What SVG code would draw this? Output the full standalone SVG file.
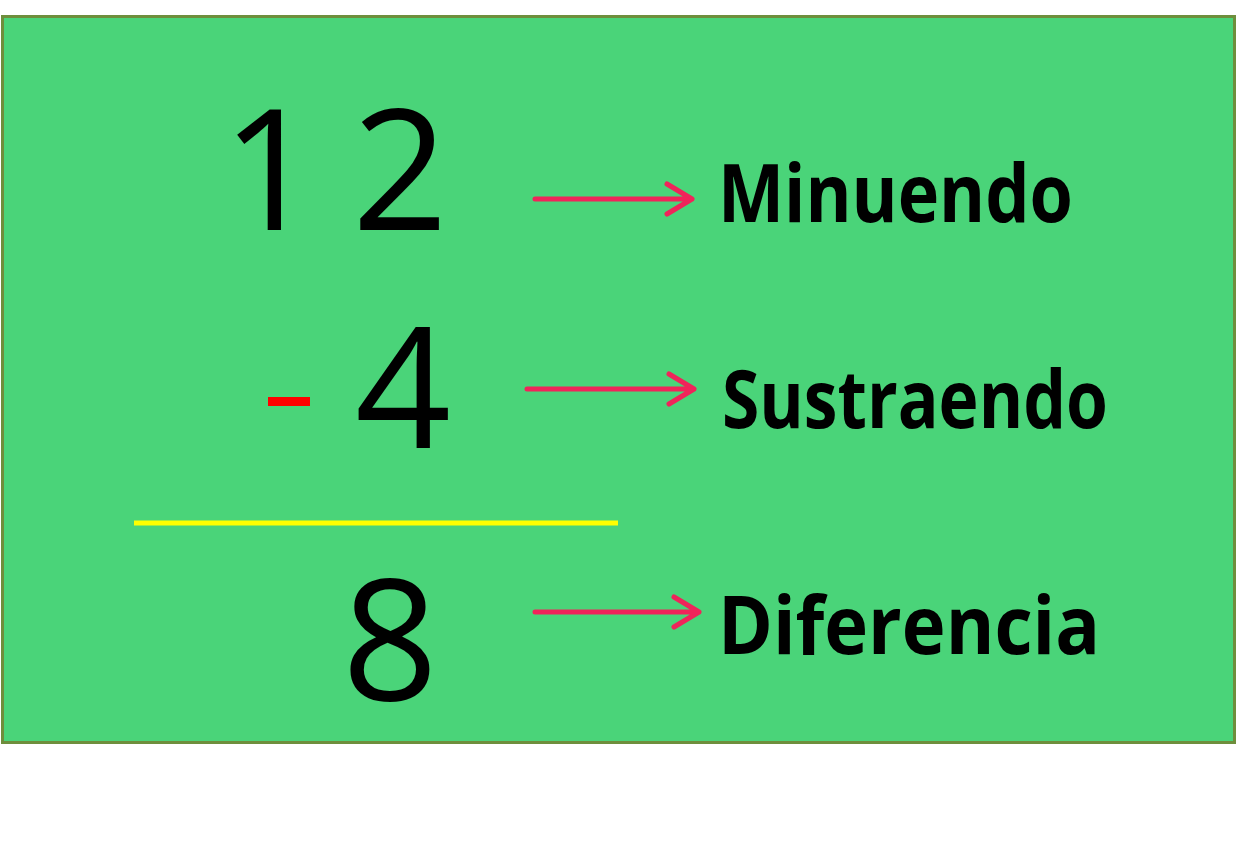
<svg xmlns="http://www.w3.org/2000/svg" width="1237" height="844" viewBox="0 0 1237 844">
<style>
.num{font-family:"Open Sans","Noto Sans",sans-serif;font-size:168px;fill:#000}
.lbl{font-family:"Open Sans","Noto Sans",sans-serif;font-weight:bold;font-size:80px;fill:#000}
.arr{stroke:#F0245A;stroke-width:5;fill:none;stroke-linecap:round;stroke-linejoin:round}
</style>
<rect width="1237" height="844" fill="#fff"/>
<rect id="board" x="2.5" y="16.5" width="1232" height="726" fill="#4AD479" stroke="#6E8E3C" stroke-width="3"/>
<g id="minuendo-num"><text class="num" x="222" y="230">1</text><text class="num" x="352" y="230">2</text></g>
<g id="minus"><rect x="268" y="397" width="42" height="9" fill="#F00"/></g>
<g id="sustraendo-num"><text class="num" x="355" y="448">4</text></g>
<g id="line"><line x1="134" y1="523" x2="618" y2="523" stroke="#FFFF00" stroke-width="5"/></g>
<g id="diferencia-num"><text class="num" x="342" y="700">8</text></g>
<g id="connectors">
<path class="arr" d="M535 199H692M667 184L692 199L667 214"/>
<path class="arr" d="M527 389H694M669 374L694 389L669 404"/>
<path class="arr" d="M535 612H699M674 597L699 612L674 627"/>
</g>
<g id="labels">
<text class="lbl" x="718" y="222" textLength="355" lengthAdjust="spacingAndGlyphs">Minuendo</text>
<text class="lbl" x="722" y="428" textLength="386" lengthAdjust="spacingAndGlyphs">Sustraendo</text>
<text class="lbl" x="718" y="654" textLength="382" lengthAdjust="spacingAndGlyphs">Diferencia</text>
</g>
</svg>
